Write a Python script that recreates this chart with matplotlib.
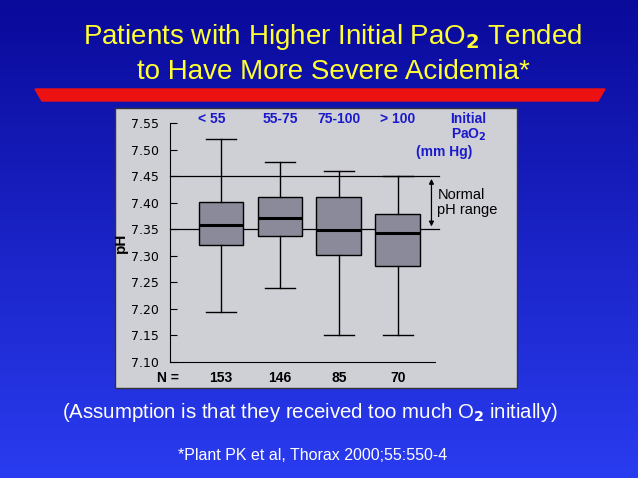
import matplotlib
matplotlib.use("Agg")
import matplotlib.pyplot as plt
import numpy as np
from matplotlib.patches import Polygon, Rectangle
from matplotlib.colors import LinearSegmentedColormap

groups = ["< 55", "55-75", "75-100", "> 100"]
counts = ["153", "146", "85", "70"]
whislo = [7.195, 7.24, 7.15, 7.15]
q1 = [7.32, 7.338, 7.302, 7.28]
med = [7.358, 7.371, 7.349, 7.342]
q3 = [7.402, 7.41, 7.41, 7.378]
whishi = [7.52, 7.476, 7.46, 7.45]
yticks = [7.10, 7.15, 7.20, 7.25, 7.30, 7.35, 7.40, 7.45, 7.50, 7.55]

W, H = 638, 478
fig = plt.figure(figsize=(W/100, H/100), dpi=100)
bg = fig.add_axes([0, 0, 1, 1])
grad = np.linspace(0, 1, 256).reshape(-1, 1)
cm = LinearSegmentedColormap.from_list("b", ["#0a0a9a", "#2a3cf0"])
bg.imshow(grad, aspect="auto", cmap=cm, extent=[0, W, H, 0])
bg.set_xlim(0, W); bg.set_ylim(H, 0); bg.axis("off")
bg.add_patch(Polygon([[35, 89], [605, 89], [598, 101], [42, 101]], closed=True, color="#ee1111"))
bg.add_patch(Rectangle((115, 108), 402, 280, facecolor="#cfcfd6", edgecolor="#333333", lw=1))
F = "Liberation Sans"
bg.text(333, 37, r"Patients with Higher Initial PaO$_\mathbf{2}$ Tended", color="#ffff33",
        fontsize=20, ha="center", va="center", family=F)
bg.text(333, 72, "to Have More Severe Acidemia*", color="#ffff33",
        fontsize=20, ha="center", va="center", family=F)
bg.text(310, 413, r"(Assumption is that they received too much O$_\mathbf{2}$ initially)", color="white",
        fontsize=14.7, ha="center", va="center", family=F)
bg.text(313, 455, "*Plant PK et al, Thorax 2000;55:550-4", color="white",
        fontsize=11.5, ha="center", va="center", family=F)

ax = fig.add_axes([170/W, 1-362/H, 265/W, 239/H])
ax.patch.set_alpha(0)
stats = [dict(whislo=a, q1=b, med=c, q3=d, whishi=e, fliers=[]) for a, b, c, d, e in zip(whislo, q1, med, q3, whishi)]
ax.bxp(stats, positions=[1, 2, 3, 4], widths=0.76, patch_artist=True,
       boxprops=dict(facecolor="#8a8a9a", edgecolor="black", lw=1),
       medianprops=dict(color="black", lw=2.2),
       whiskerprops=dict(color="black", lw=1), capprops=dict(color="black", lw=1), capwidths=0.5)
ax.set_xlim(0.136, 4.63)
ax.set_ylim(7.10, 7.55)
ax.set_yticks(yticks)
ax.set_yticklabels([f"{t:.2f}" for t in yticks], fontsize=9)
ax.set_xticks([1, 2, 3, 4]); ax.set_xticklabels([])
ax.tick_params(direction="in", length=5, pad=8)
ax.tick_params(axis="x", direction="out", length=0)
for s in ["top", "right"]:
    ax.spines[s].set_visible(False)
for y in [7.45, 7.35]:
    ax.plot([0.136, 4.7], [y, y], color="black", lw=0.9, clip_on=False, zorder=0)
ax.annotate("", xy=(4.57, 7.45), xytext=(4.57, 7.35), arrowprops=dict(arrowstyle="<|-|>", lw=0.9, color="black", mutation_scale=7))
ax.text(4.67, 7.40, "Normal\npH range", fontsize=10.5, va="center", ha="left", linespacing=1.1, family=F)
ax.set_ylabel("pH", fontsize=11, fontweight="bold", labelpad=2, family=F)
for i, (g, n) in enumerate(zip(groups, counts)):
    ax.text(i+1 - (0.15 if i == 0 else 0), 7.557, g, color="#1a1acc", fontsize=10, fontweight="bold", ha="center", va="center", family=F)
    ax.text(i+1, 7.07, n, fontsize=10, fontweight="bold", ha="center", va="center", family=F)
ax.text(0.1, 7.07, "N =", fontsize=10, fontweight="bold", ha="center", va="center", family=F)
ax.text(5.2, 7.557, "Initial", color="#1a1acc", fontsize=10, fontweight="bold", ha="center", va="center", family=F)
ax.text(5.2, 7.527, r"PaO$_\mathbf{2}$", color="#1a1acc", fontsize=10, fontweight="bold", ha="center", va="center", family=F)
ax.text(4.78, 7.495, "(mm Hg)", color="#1a1acc", fontsize=10, fontweight="bold", ha="center", va="center", family=F)
fig.savefig("out.png", dpi=100)
